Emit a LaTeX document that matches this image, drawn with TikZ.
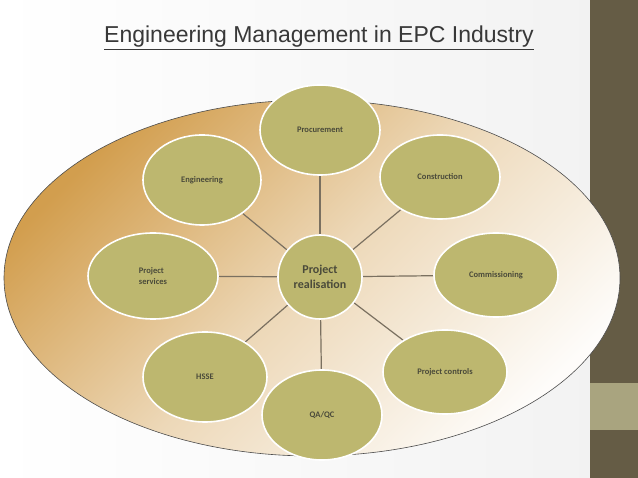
\documentclass[tikz,border=0pt]{standalone}
\usepackage{fontspec}
\setmainfont{Carlito}
\newfontfamily\titlefont{Liberation Sans}
\usetikzlibrary{shapes.geometric}
\definecolor{olive}{HTML}{BDB76F}
\definecolor{darkbar}{HTML}{655C45}
\definecolor{lightbar}{HTML}{A9A47F}
\definecolor{txt}{HTML}{4A4A3A}
\definecolor{spoke}{HTML}{7A7060}
\definecolor{orng}{HTML}{D29E4E}
\pgfdeclarelayer{back}
\pgfdeclarelayer{spokes}
\pgfsetlayers{back,spokes,main}
\tikzset{
  bub/.style={ellipse,draw=white,line width=1.6pt,fill=olive,text=txt,font=\bfseries\fontsize{8.5}{10.5}\selectfont,align=center,inner sep=0pt},
  sp/.style={draw=spoke,line width=1.2pt}
}
\begin{document}
\begin{tikzpicture}[x=1pt,y=-1pt]
\useasboundingbox (0,0) rectangle (638,478);
\begin{pgfonlayer}{back}
\shade[left color=white,right color=white!90!gray] (0,0) rectangle (590,478);
\fill[darkbar] (590,0) rectangle (638,478);
\fill[lightbar] (590,383) rectangle (638,430);
\shade[top color=orng,bottom color=white!97!orng,middle color=orng!40!white,shading angle=45] (312,278) ellipse [x radius=308, y radius=178];
\draw[black!70,line width=0.6pt] (312,278) ellipse [x radius=308, y radius=178];
\end{pgfonlayer}
\node[anchor=base,font=\titlefont\fontsize{23}{26}\selectfont,text=black!78,inner sep=0pt] (title) at (319,43) {\underline{Engineering Management in EPC Industry}};
\node[bub,circle,minimum size=84pt,font=\bfseries\fontsize{12}{15}\selectfont] (c) at (320,277) {Project\\realisation};
\node[bub,minimum width=120pt,minimum height=90pt] (proc) at (320,130) {Procurement};
\node[bub,minimum width=118pt,minimum height=90pt] (eng) at (202,180) {Engineering};
\node[bub,minimum width=120pt,minimum height=84pt] (cons) at (440,177) {Construction};
\node[bub,minimum width=130pt,minimum height=86pt,align=left] (ps) at (153,276) {Project\\services};
\node[bub,minimum width=124pt,minimum height=84pt] (comm) at (496,275) {Commissioning};
\node[bub,minimum width=124pt,minimum height=90pt] (hsse) at (205,377) {HSSE};
\node[bub,minimum width=120pt,minimum height=90pt] (qa) at (322,415) {QA/QC};
\node[bub,minimum width=124pt,minimum height=84pt] (pc) at (445,372) {Project controls};
\begin{pgfonlayer}{spokes}
\foreach \n in {proc,eng,cons,ps,comm,hsse,qa,pc} \draw[sp] (c) -- (\n);
\end{pgfonlayer}
\end{tikzpicture}
\end{document}
